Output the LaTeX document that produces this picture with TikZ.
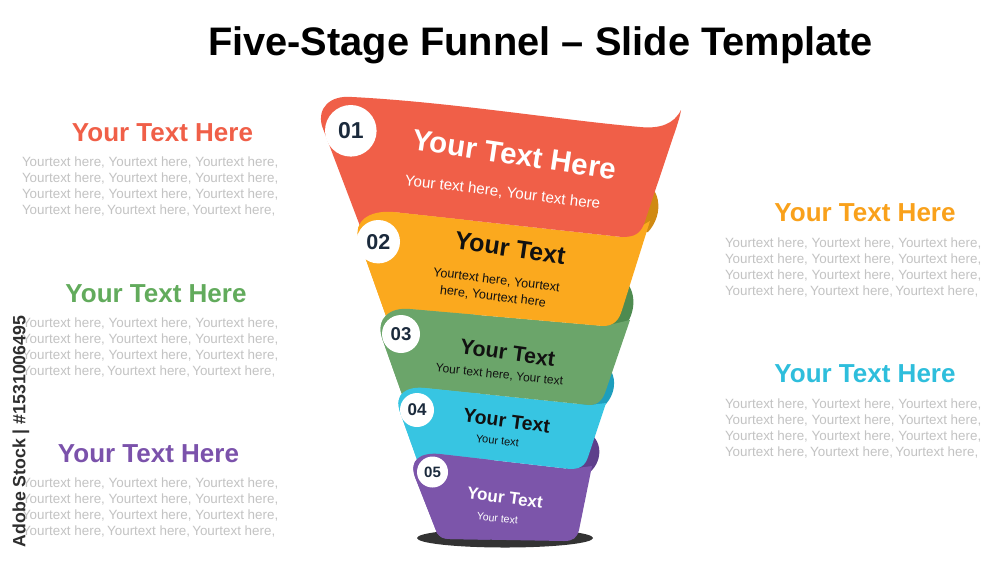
\documentclass[tikz,border=0pt]{standalone}
\usepackage{fontspec}
\setmainfont{Liberation Sans}
\definecolor{cRed}{HTML}{F05F48}
\definecolor{cYel}{HTML}{FBA91E}
\definecolor{cGrn}{HTML}{6BA56A}
\definecolor{cBlu}{HTML}{37C5E2}
\definecolor{cPur}{HTML}{7C55AA}
\definecolor{dYel}{HTML}{D08A12}
\definecolor{dGrn}{HTML}{4E8B50}
\definecolor{dBlu}{HTML}{1E9EBD}
\definecolor{dPur}{HTML}{5E3F8B}
\definecolor{shadowc}{HTML}{333333}
\definecolor{navy}{HTML}{1B2A3C}
\definecolor{bodygray}{HTML}{C3C3C3}
\definecolor{hRed}{HTML}{F05F48}
\definecolor{hGrn}{HTML}{62AB5C}
\definecolor{hPur}{HTML}{7B52AB}
\definecolor{hOrg}{HTML}{F9A11B}
\definecolor{hCya}{HTML}{2EBEDC}
\definecolor{inktxt}{HTML}{111111}
\definecolor{wmgray}{HTML}{2E2E2E}
\begin{document}
\begin{tikzpicture}[x=1pt,y=-1pt,
  every node/.style={inner sep=0pt, outer sep=0pt},
  headtxt/.style={font=\fontsize{26}{30}\selectfont\bfseries, anchor=base},
  bodytxt/.style={font=\fontsize{13.4}{16}\selectfont, text=bodygray, anchor=base west},
  numdisc/.style={circle, fill=white, minimum size=#1},
  numfont/.style={font=\fontsize{#1}{#1}\selectfont\bfseries, text=navy},
  bigtxt/.style={font=\fontsize{#1}{#1}\selectfont\bfseries, anchor=base},
  smalltxt/.style={font=\fontsize{#1}{#1}\selectfont, anchor=base},
]
\fill[white] (0,0) rectangle (1000,563);
\useasboundingbox (0,0) rectangle (1000,563);

% title
\node[font=\fontsize{39.8}{44}\selectfont\bfseries, anchor=base] (title) at (540.5,55.5) {Five-Stage Funnel – Slide Template};

% dark backs and shadow
\fill[dYel] (630,175) .. controls (664,182) and (664,215) .. (648,232) -- (620,232) -- cycle;
\fill[dGrn] (610,272) .. controls (638,280) and (638,310) .. (625,326) -- (600,326) -- cycle;
\fill[dBlu] (592,358) .. controls (619,364) and (619,392) .. (604,406) -- (580,406) -- cycle;
\fill[dPur] (578,428) .. controls (604,434) and (604,460) .. (590,472) -- (565,472) -- cycle;
\fill[shadowc] (505,538) ellipse [x radius=88, y radius=9.5];

% fronts, bottom to top
\fill[cPur] (437,533) -- (415,477) .. controls (409,460) and (420,452) .. (440,454) -- (570,469) -- (592,466) -- (579,530) .. controls (577,538) and (573,541) .. (564,541) -- (450,539) .. controls (443,539) and (440,537) .. (437,533) -- cycle;
\fill[cBlu] (420,468) -- (400,412) .. controls (394,394) and (406,386) .. (425,388) -- (590,405) -- (606,403) -- (588,457) .. controls (585,466) and (580,469) .. (570,469) -- (440,454) -- cycle;
\fill[cGrn] (404,400) -- (382,338) .. controls (376,318) and (390,307) .. (410,309) -- (605,326) -- (630,320) -- (606,390) .. controls (603,399) and (599,405) .. (589,405) -- (425,388) -- cycle;
\fill[cYel] (391,330) -- (359,240) .. controls (353,222) and (368,210) .. (393,212) -- (622,237) -- (650,221) -- (622,310) .. controls (619,320) and (614,326) .. (603,326) -- (410,309) -- cycle;
\fill[cRed] (322,126) .. controls (317,108) and (330,95) .. (352,97) .. controls (450,102) and (560,120) .. (640,127) .. controls (660,129) and (674,124) .. (681,110) .. controls (680,117) and (678,122) .. (676.5,127) -- (644,224) .. controls (640,234) and (634,237) .. (622,237) -- (393,212) -- (360,226) -- cycle;

% left caps of the lower bands
\begin{scope}
\clip (300,150) rectangle (470,563);
\fill[cYel] (391,330) -- (359,240) .. controls (353,222) and (368,210) .. (393,212) -- (622,237) -- (650,221) -- (622,310) .. controls (619,320) and (614,326) .. (603,326) -- (410,309) -- cycle;
\end{scope}
\begin{scope}
\clip (300,250) rectangle (475,563);
\fill[cGrn] (404,400) -- (382,338) .. controls (376,318) and (390,307) .. (410,309) -- (605,326) -- (630,320) -- (606,390) .. controls (603,399) and (599,405) .. (589,405) -- (425,388) -- cycle;
\end{scope}
\begin{scope}
\clip (300,330) rectangle (480,563);
\fill[cBlu] (420,468) -- (400,412) .. controls (394,394) and (406,386) .. (425,388) -- (590,405) -- (606,403) -- (588,457) .. controls (585,466) and (580,469) .. (570,469) -- (440,454) -- cycle;
\end{scope}
\begin{scope}
\clip (300,400) rectangle (490,563);
\fill[cPur] (437,533) -- (415,477) .. controls (409,460) and (420,452) .. (440,454) -- (570,469) -- (592,466) -- (579,530) .. controls (577,538) and (573,541) .. (564,541) -- (450,539) .. controls (443,539) and (440,537) .. (437,533) -- cycle;
\end{scope}

% number discs
\node[numdisc=51.6pt, numfont=23] (c1) at (350.8,130.8) {01};
\node[numdisc=43.4pt, numfont=21.5] (c2) at (378.3,241.7) {02};
\node[numdisc=38pt, numfont=18.6] (c3) at (401,334) {03};
\node[numdisc=34pt, numfont=17] (c4) at (417,410) {04};
\node[numdisc=31pt, numfont=15] (c5) at (432.5,472) {05};

% band texts
\node[bigtxt=29.5, text=white, rotate=-8.5] (t1) at (513,164.5) {Your Text Here};
\node[smalltxt=15.2, text=white, rotate=-7] (s1) at (502,197) {Your text here, Your text here};
\node[bigtxt=25, text=inktxt, rotate=-8.3] (t2) at (509,256.7) {Your Text};
\node[smalltxt=12.6, text=inktxt, rotate=-7] (s2a) at (496,284) {Yourtext here, Yourtext};
\node[smalltxt=12.6, text=inktxt, rotate=-7] (s2b) at (492.5,300.5) {here, Yourtext here};
\node[bigtxt=21.4, text=inktxt, rotate=-8] (t3) at (506.7,360) {Your Text};
\node[smalltxt=12, text=inktxt, rotate=-6] (s3) at (499,378.5) {Your text here, Your text};
\node[bigtxt=19.5, text=inktxt, rotate=-7.5] (t4) at (505.8,427.5) {Your Text};
\node[smalltxt=11, text=inktxt, rotate=-6.5] (s4) at (497,444.5) {Your text};
\node[bigtxt=17, text=white, rotate=-7.4] (t5) at (504.3,503.3) {Your Text};
\node[smalltxt=10.5, text=white, rotate=-6] (s5) at (497,522) {Your text};

% side blocks
\node[headtxt, text=hRed] (h1) at (162.5,141.5) {Your Text Here};
\node[bodytxt] (b1a) at (22,166) {Yourtext here, Yourtext here, Yourtext here,};
\node[bodytxt] (b1b) at (22,182) {Yourtext here, Yourtext here, Yourtext here,};
\node[bodytxt] (b1c) at (22,198) {Yourtext here, Yourtext here, Yourtext here,};
\node[bodytxt] (b1d) at (22,214) {Yourtext here,\,Yourtext here,\,Yourtext here,};

\node[headtxt, text=hGrn] (h3) at (156,302) {Your Text Here};
\node[bodytxt] (b3a) at (22,327) {Yourtext here, Yourtext here, Yourtext here,};
\node[bodytxt] (b3b) at (22,343) {Yourtext here, Yourtext here, Yourtext here,};
\node[bodytxt] (b3c) at (22,359) {Yourtext here, Yourtext here, Yourtext here,};
\node[bodytxt] (b3d) at (22,375) {Yourtext here,\,Yourtext here,\,Yourtext here,};

\node[headtxt, text=hPur] (h5) at (148.5,462) {Your Text Here};
\node[bodytxt] (b5a) at (22,487) {Yourtext here, Yourtext here, Yourtext here,};
\node[bodytxt] (b5b) at (22,503) {Yourtext here, Yourtext here, Yourtext here,};
\node[bodytxt] (b5c) at (22,519) {Yourtext here, Yourtext here, Yourtext here,};
\node[bodytxt] (b5d) at (22,535) {Yourtext here,\,Yourtext here,\,Yourtext here,};

\node[headtxt, text=hOrg] (h2) at (865,221) {Your Text Here};
\node[bodytxt] (b2a) at (725,247) {Yourtext here, Yourtext here, Yourtext here,};
\node[bodytxt] (b2b) at (725,263) {Yourtext here, Yourtext here, Yourtext here,};
\node[bodytxt] (b2c) at (725,279) {Yourtext here, Yourtext here, Yourtext here,};
\node[bodytxt] (b2d) at (725,295) {Yourtext here,\,Yourtext here,\,Yourtext here,};

\node[headtxt, text=hCya] (h4) at (865,382) {Your Text Here};
\node[bodytxt] (b4a) at (725,408) {Yourtext here, Yourtext here, Yourtext here,};
\node[bodytxt] (b4b) at (725,424) {Yourtext here, Yourtext here, Yourtext here,};
\node[bodytxt] (b4c) at (725,440) {Yourtext here, Yourtext here, Yourtext here,};
\node[bodytxt] (b4d) at (725,456) {Yourtext here,\,Yourtext here,\,Yourtext here,};

% vertical stock label
\node[font=\fontsize{17.7}{18}\selectfont\bfseries, text=wmgray, rotate=90] (wm) at (21,431.5) {Adobe Stock | \#1531006495};
\end{tikzpicture}
\end{document}
